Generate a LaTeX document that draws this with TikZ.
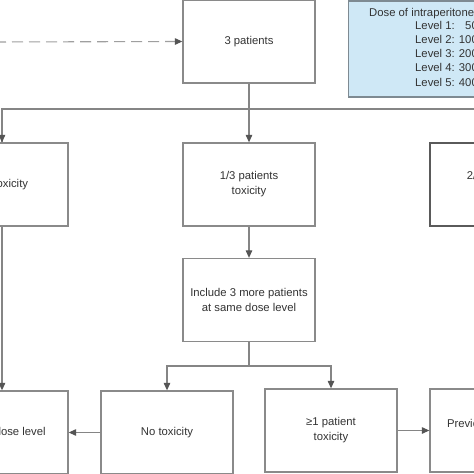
\documentclass[tikz,border=0pt]{standalone}
\usepackage{fontspec}
\setmainfont{Liberation Sans}
\usetikzlibrary{arrows.meta}
\definecolor{boxline}{HTML}{8A8A8A}
\definecolor{darkline}{HTML}{5A5A5A}
\definecolor{conline}{HTML}{858585}
\definecolor{tipcol}{HTML}{555555}
\definecolor{txtcol}{HTML}{333333}
\definecolor{dosefill}{HTML}{CFE8F6}
\definecolor{doseline}{HTML}{7E8A92}
\tikzset{
  stepbox/.style={draw=boxline, line width=1.3bp, rectangle, minimum width=132bp, minimum height=83bp, inner sep=0pt, align=center, text=txtcol, font=\fontsize{11.3bp}{15bp}\selectfont},
  txt/.style={text=txtcol, inner sep=0pt, font=\fontsize{11.3bp}{15bp}\selectfont},
  conn/.style={draw=conline, line width=1.1bp},
  arr/.style={conn, -{Triangle[length=7.5bp, width=6.5bp, fill=tipcol, color=tipcol]}},
}
\begin{document}
\begin{tikzpicture}[x=1bp, y=-1bp]
\useasboundingbox (0,0) rectangle (474,474);
\clip (0,0) rectangle (474,474);
\fill[white] (0,0) rectangle (474,474);

% blue dose box
\node[draw=doseline, fill=dosefill, line width=1.2bp, rectangle, inner sep=0pt, minimum width=253bp, minimum height=96bp, anchor=north west] (dose) at (347.5,0.5) {};
\node[txt, anchor=base west] (dosetitle) at (369,16.2) {Dose of intraperitoneal};
\node[txt, anchor=base west] (lv1) at (415,30) {Level 1: \phantom{1}50};
\node[txt, anchor=base west] (lv2) at (415,43.5) {Level 2: 100};
\node[txt, anchor=base west] (lv3) at (415,57.5) {Level 3: 200};
\node[txt, anchor=base west] (lv4) at (415,71.8) {Level 4: 300};
\node[txt, anchor=base west] (lv5) at (415,86.8) {Level 5: 400};

% boxes
\node[stepbox] (p3) at (249,41.5) {3 patients};
\node[stepbox] (n1) at (2,184.5) {No toxicity};
\node[stepbox] (m1) at (249,184.5) {1/3 patients\\toxicity};
\node[stepbox, draw=darkline] (r1) at (496,184.5) {2/3 patients\\toxicity};
\node[stepbox] (inc) at (249,300) {Include 3 more patients\\at same dose level};
\node[stepbox] (hl) at (2,432.5) {Higher dose level};
\node[stepbox] (nt) at (167,432.5) {No toxicity};
\node[stepbox] (ge) at (331,430.5) {≥1 patient\\toxicity};
\node[stepbox] (pv) at (496,430.5) {};
\node[txt] (pvt) at (496,423) {Previous dose level};

% connectors
\coordinate (dstart) at (-5,42);
\coordinate (split1) at (249,109);
\coordinate (split2) at (249,366);
\draw[arr, draw=gray!75, dash pattern=on 11bp off 6bp] (dstart) -- (p3.west);
\draw[arr] (p3.south) -- (m1.north);
\draw[conn] (split1) -| (n1.north);
\draw[arr] (split1 -| n1.north) -- (n1.north);
\draw[arr] (split1) -| (r1.north);
\draw[arr] (m1.south) -- (inc.north);
\draw[arr] (n1.south) -- (hl.north);
\draw[conn] (inc.south) -- (split2);
\draw[arr] (split2) -| (nt.north);
\draw[arr] (split2) -| (ge.north);
\draw[arr] (nt.west) -- (hl.east);
\draw[arr] (ge.east) -- (pv.west);
\end{tikzpicture}
\end{document}
